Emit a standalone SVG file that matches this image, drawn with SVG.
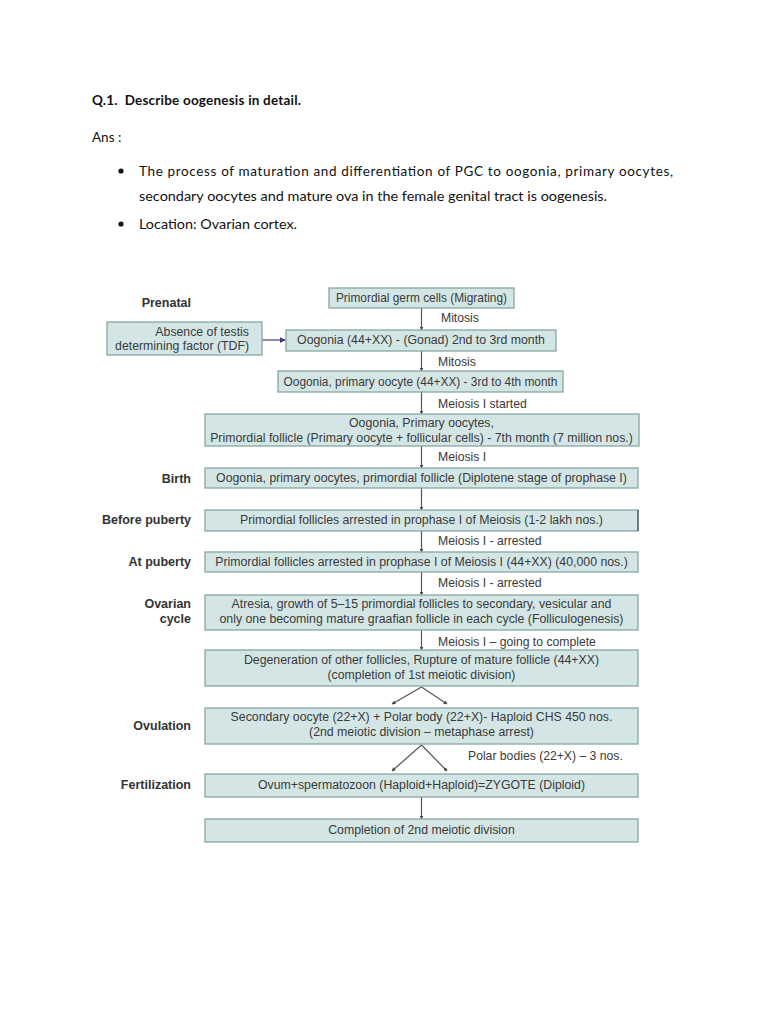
<svg xmlns="http://www.w3.org/2000/svg" width="768" height="1024" viewBox="0 0 768 1024">
<defs>
<style>
.doc{font-family:Lato,"Open Sans","Liberation Sans",sans-serif;font-size:13.5px;fill:#111}
.box{fill:#d3e6e5;stroke:#87a7a3;stroke-width:1.3}
.bt{font-family:"Liberation Sans",Arial,sans-serif;font-size:12.3px;fill:#3a3a3a;text-anchor:middle}
.sm{font-size:11.9px}
.lab{font-family:"Liberation Sans",Arial,sans-serif;font-size:12.2px;fill:#3a3a3a}
.side{font-family:"Liberation Sans",Arial,sans-serif;font-size:12.5px;font-weight:bold;fill:#333;text-anchor:end}
.con{stroke:#555;stroke-width:1.2;fill:none;marker-end:url(#ah)}
</style>
<marker id="ah" viewBox="0 0 8 8" refX="7" refY="4" markerWidth="4" markerHeight="4" orient="auto" markerUnits="userSpaceOnUse"><path d="M0,0 L8,4 L0,8 z" fill="#444"/></marker>
<marker id="ahb" viewBox="0 0 8 8" refX="7" refY="4" markerWidth="6" markerHeight="6" orient="auto" markerUnits="userSpaceOnUse"><path d="M0,0 L8,4 L0,8 z" fill="#3d3d80"/></marker>
</defs>
<rect width="768" height="1024" fill="#fff"/>
<g id="header">
<text class="doc" x="92" y="105" font-weight="bold" xml:space="preserve" textLength="209" lengthAdjust="spacing">Q.1.  Describe oogenesis in detail.</text>
<text class="doc" x="92" y="142" xml:space="preserve">Ans :</text>
<circle cx="121" cy="171" r="2.6" fill="#111"/>
<text class="doc" x="139" y="176" textLength="534" lengthAdjust="spacing">The process of maturation and differentiation of PGC to oogonia, primary oocytes,</text>
<text class="doc" x="139" y="201" textLength="468" lengthAdjust="spacingAndGlyphs">secondary oocytes and mature ova in the female genital tract is oogenesis.</text>
<circle cx="121" cy="224" r="2.6" fill="#111"/>
<text class="doc" x="139" y="229" textLength="158" lengthAdjust="spacingAndGlyphs">Location: Ovarian cortex.</text>
</g>
<g id="side-labels">
<text class="side" x="191" y="307">Prenatal</text>
<text class="side" x="191" y="483">Birth</text>
<text class="side" x="191" y="524">Before puberty</text>
<text class="side" x="191" y="566">At puberty</text>
<text class="side" x="191" y="608">Ovarian</text>
<text class="side" x="191" y="623">cycle</text>
<text class="side" x="191" y="730">Ovulation</text>
<text class="side" x="191" y="789">Fertilization</text>
</g>
<g id="connectors">
<line class="con" x1="421.5" y1="308" x2="421.5" y2="330"/>
<line class="con" x1="421.5" y1="351" x2="421.5" y2="371"/>
<line class="con" x1="421.5" y1="392" x2="421.5" y2="414"/>
<line class="con" x1="421.5" y1="446" x2="421.5" y2="468"/>
<line class="con" x1="421.5" y1="488" x2="421.5" y2="510"/>
<line class="con" x1="421.5" y1="531" x2="421.5" y2="552"/>
<line class="con" x1="421.5" y1="572" x2="421.5" y2="595"/>
<line class="con" x1="421.5" y1="630" x2="421.5" y2="650"/>
<line class="con" x1="421.5" y1="687" x2="392" y2="704"/>
<line class="con" x1="421.5" y1="687" x2="447" y2="704"/>
<line class="con" x1="421.5" y1="745" x2="392" y2="771"/>
<line class="con" x1="421.5" y1="745" x2="447" y2="771"/>
<line class="con" x1="421.5" y1="797" x2="421.5" y2="819"/>
<line x1="262" y1="340" x2="285" y2="340" stroke="#3d3d80" stroke-width="1.2" marker-end="url(#ahb)"/>
<text class="lab" x="441" y="322">Mitosis</text>
<text class="lab" x="438" y="366">Mitosis</text>
<text class="lab" x="438" y="408">Meiosis I started</text>
<text class="lab" x="438" y="461">Meiosis I</text>
<text class="lab" x="438" y="545">Meiosis I - arrested</text>
<text class="lab" x="438" y="587">Meiosis I - arrested</text>
<text class="lab" x="438" y="646">Meiosis I – going to complete</text>
<text class="lab" x="468" y="760">Polar bodies (22+X) – 3 nos.</text>
</g>
<g id="n-pgc"><rect class="box" x="329" y="288" width="185" height="20"/><text class="bt sm" x="421.5" y="302">Primordial germ cells (Migrating)</text></g>
<g id="n-tdf"><rect class="box" x="107" y="322" width="155" height="33"/><text class="bt" x="249" y="336" style="text-anchor:end">Absence of testis</text><text class="bt" x="249" y="350" style="text-anchor:end">determining factor (TDF)</text></g>
<g id="n-oogonia"><rect class="box" x="286" y="330" width="270" height="21"/><text class="bt" x="421" y="344">Oogonia (44+XX) - (Gonad) 2nd to 3rd month</text></g>
<g id="n-primary"><rect class="box" x="278" y="371" width="285" height="21"/><text class="bt sm" x="420.5" y="386">Oogonia, primary oocyte (44+XX) - 3rd to 4th month</text></g>
<g id="n-7th"><rect class="box" x="205" y="414" width="434" height="32"/><text class="bt" x="421.5" y="427">Oogonia, Primary oocytes,</text><text class="bt" x="421.5" y="442">Primordial follicle (Primary oocyte + follicular cells) - 7th month (7 million nos.)</text></g>
<g id="n-birth"><rect class="box" x="205" y="468" width="433" height="20"/><text class="bt" x="421.5" y="482">Oogonia, primary oocytes, primordial follicle (Diplotene stage of prophase I)</text></g>
<g id="n-before"><rect class="box" x="205" y="510" width="433" height="21"/><line x1="638" y1="510" x2="638" y2="531" stroke="#667" stroke-width="1.6"/><text class="bt" x="421.5" y="524">Primordial follicles arrested in prophase I of Meiosis (1-2 lakh nos.)</text></g>
<g id="n-puberty"><rect class="box" x="205" y="552" width="433" height="20"/><text class="bt" x="421.5" y="566">Primordial follicles arrested in prophase I of Meiosis I (44+XX) (40,000 nos.)</text></g>
<g id="n-ovarian"><rect class="box" x="205" y="595" width="433" height="35"/><text class="bt" x="421.5" y="608">Atresia, growth of 5–15 primordial follicles to secondary, vesicular and</text><text class="bt" x="421.5" y="623">only one becoming mature graafian follicle in each cycle (Folliculogenesis)</text></g>
<g id="n-degen"><rect class="box" x="205" y="650" width="433" height="36"/><text class="bt" x="421.5" y="664">Degeneration of other follicles, Rupture of mature follicle (44+XX)</text><text class="bt" x="421.5" y="679">(completion of 1st meiotic division)</text></g>
<g id="n-ovulation"><rect class="box" x="205" y="708" width="433" height="36"/><text class="bt" x="421.5" y="721">Secondary oocyte (22+X) + Polar body (22+X)- Haploid CHS 450 nos.</text><text class="bt" x="421.5" y="736">(2nd meiotic division – metaphase arrest)</text></g>
<g id="n-fert"><rect class="box" x="205" y="774" width="433" height="23"/><text class="bt" x="421.5" y="789">Ovum+spermatozoon (Haploid+Haploid)=ZYGOTE (Diploid)</text></g>
<g id="n-final"><rect class="box" x="205" y="819" width="433" height="23"/><text class="bt" x="421.5" y="834">Completion of 2nd meiotic division</text></g>
</svg>
